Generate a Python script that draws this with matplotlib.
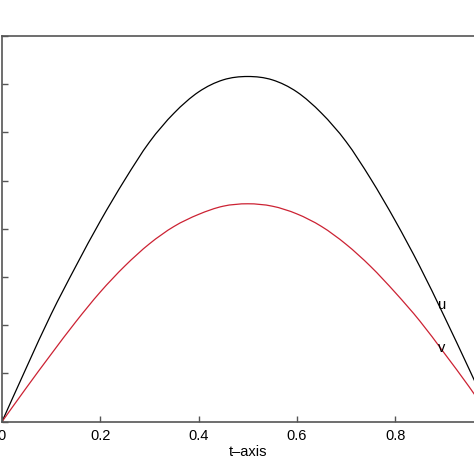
import matplotlib.pyplot as plt
import numpy as np
from matplotlib.path import Path
from matplotlib.patches import PathPatch

plt.rcParams['font.family'] = ['Liberation Sans', 'DejaVu Sans']

# values, every 0.05 along t
t = [0, 0.05, 0.10, 0.15, 0.20, 0.25, 0.30, 0.35, 0.40, 0.45, 0.50,
     0.55, 0.60, 0.65, 0.70, 0.75, 0.80, 0.85, 0.90, 0.95, 1.0]
u = [0, 0.113, 0.223, 0.322, 0.416, 0.502, 0.580, 0.640, 0.684, 0.709, 0.716,
     0.709, 0.684, 0.640, 0.581, 0.504, 0.417, 0.322, 0.218, 0.110, 0.0]
v = [0, 0.071, 0.140, 0.207, 0.269, 0.323, 0.369, 0.405, 0.430, 0.447, 0.452,
     0.447, 0.431, 0.405, 0.368, 0.322, 0.268, 0.209, 0.142, 0.073, 0.0]

xticks = [0, 0.2, 0.4, 0.6, 0.8]
xticklabels = ['0', '0.2', '0.4', '0.6', '0.8']
yticks = np.arange(0, 0.81, 0.1)


def smooth_line(ax, x, y, **kw):
    # Catmull-Rom curve through the read points, drawn as bezier segments
    p = np.column_stack([x, y])
    n = len(p)
    verts = [p[0]]
    codes = [Path.MOVETO]
    for i in range(n - 1):
        p0 = p[i - 1] if i > 0 else p[i]
        p3 = p[i + 2] if i + 2 < n else p[i + 1]
        c1 = p[i] + (p[i + 1] - p0) / 6
        c2 = p[i + 1] - (p3 - p[i]) / 6
        verts += [c1, c2, p[i + 1]]
        codes += [Path.CURVE4] * 3
    ax.add_patch(PathPatch(Path(verts, codes), fill=False, **kw))


fig = plt.figure(figsize=(4.74, 4.74), dpi=100)
# the reference is a crop, so the axes run past the right edge of the figure
ax = fig.add_axes([2 / 474, 52.3 / 474, 491.5 / 474, 385.7 / 474])

smooth_line(ax, t, u, edgecolor='black', lw=0.9)
smooth_line(ax, t, v, edgecolor='#cc2233', lw=0.9)

ax.text(0.895, 0.242, 'u', ha='center', va='center', fontsize=10.5)
ax.text(0.895, 0.152, 'v', ha='center', va='center', fontsize=10.5)

ax.set_xlim(0, 1)
ax.set_ylim(0, 0.8)
ax.set_xticks(xticks)
ax.set_xticklabels(xticklabels)
ax.set_yticks(yticks)
ax.tick_params(direction='in', length=4, width=1, color='#555555',
               labelsize=10.5, pad=5, labelleft=False)
ax.set_xlabel('t\u2013axis', fontsize=10.5, labelpad=2)

for s in ['left', 'bottom', 'top']:
    ax.spines[s].set_color('#555555')
    ax.spines[s].set_linewidth(1.2)
ax.spines['right'].set_visible(False)

fig.savefig('out.png', dpi=100)
